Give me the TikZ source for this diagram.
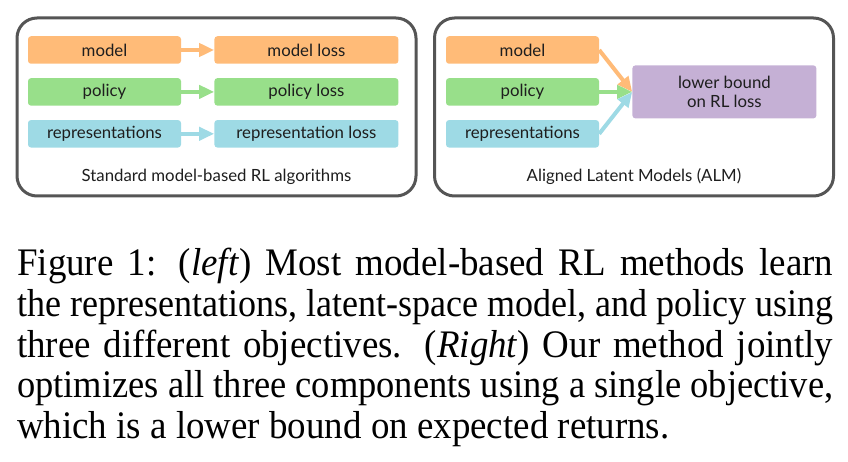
\documentclass[tikz,border=0pt]{standalone}
\usepackage{fontspec}
\setmainfont{Liberation Serif}[FakeStretch=0.947]
\newfontfamily\partfont{Lato}
\usepackage{tikz}
\usetikzlibrary{arrows.meta,positioning}
\definecolor{almorange}{HTML}{FFBB78}
\definecolor{almgreen}{HTML}{98DF8A}
\definecolor{almcyan}{HTML}{9EDAE5}
\definecolor{almpurple}{HTML}{C5B0D5}
\definecolor{almframe}{HTML}{555555}
\definecolor{almink}{HTML}{1E1E1E}
% one caption line, brought to the full width
\newsavebox\caplinebox
\newcommand{\capfit}[1]{\sbox\caplinebox{#1}%
  \ifdim\wd\caplinebox>816pt \resizebox{816pt}{\height}{\usebox\caplinebox}%
  \else\makebox[816pt][s]{#1}\fi}
\tikzset{
  part/.style={rounded corners=3pt,minimum height=27.5pt,text=almink,font=\partfont\fontsize{16.8}{19.5}\selectfont,inner sep=0pt,align=center},
  obox/.style={part,fill=almorange},
  gbox/.style={part,fill=almgreen},
  cbox/.style={part,fill=almcyan},
  pbox/.style={part,fill=almpurple},
  panel/.style={draw=almframe,line width=3pt,rounded corners=20pt,minimum width=399pt,minimum height=178pt,inner sep=0pt},
  arr/.style={-{Triangle[length=15pt,width=13pt]},line width=4pt},
  ptitle/.style={font=\partfont\fontsize{16.8}{19.5}\selectfont,text=almink,anchor=base,inner sep=0pt},
  capline/.style={font=\fontsize{39}{41}\selectfont,anchor=base west,inner sep=0pt},
}
\begin{document}
\begin{tikzpicture}[x=1pt,y=-1pt]
\useasboundingbox (0,0) rectangle (848,462);
% the two panels
\node[panel] (lpanel) at (216.5,107) {};
\node[panel] (rpanel) at (634,107) {};
% left: one loss per component
\node[obox, minimum width=153pt] (lmodel) at (104.5,50) {model};
\node[gbox, minimum width=153pt, below=14pt of lmodel] (lpolicy) {policy};
\node[cbox, minimum width=153pt, below=14pt of lpolicy] (lrep) {representations};
\node[obox, minimum width=184pt, right=33pt of lmodel] (lmloss) {model loss};
\node[gbox, minimum width=184pt, right=33pt of lpolicy] (lploss) {policy loss};
\node[cbox, minimum width=184pt, right=33pt of lrep] (lrloss) {representation loss};
\node[ptitle] (ltitle) at (216.5,181.5) {Standard model-based RL algorithms};
\draw[arr, almorange] (lmodel) -- (lmloss);
\draw[arr, almgreen] (lpolicy) -- (lploss);
\draw[arr, almcyan] (lrep) -- (lrloss);
% right: one shared objective
\node[obox, minimum width=153pt] (rmodel) at (522.5,50) {model};
\node[gbox, minimum width=153pt, below=14pt of rmodel] (rpolicy) {policy};
\node[cbox, minimum width=153pt, below=14pt of rpolicy] (rrep) {representations};
\node[pbox, minimum width=184pt, minimum height=53pt, right=33pt of rpolicy] (bound) {lower bound\\on RL loss};
\node[ptitle] (rtitle) at (634,181.5) {Aligned Latent Models (ALM)};
\draw[arr, almorange] (rmodel.east) -- (bound.west);
\draw[arr, almgreen] (rpolicy.east) -- (bound.west);
\draw[arr, almcyan] (rrep.east) -- (bound.west);
% caption
\node[capline] (cap1) at (17,275.7) {\capfit{Figure 1: (\textit{left}) Most model-based RL methods learn}};
\node[capline] (cap2) at (17,316.3) {\capfit{the representations, latent-space model, and policy using}};
\node[capline] (cap3) at (17,357) {\capfit{three different objectives. (\textit{Right}) Our method jointly}};
\node[capline] (cap4) at (17,397.5) {\capfit{optimizes all three components using a single objective,}};
\node[capline] (cap5) at (17,438) {which is a lower bound on expected returns.};
\end{tikzpicture}
\end{document}
